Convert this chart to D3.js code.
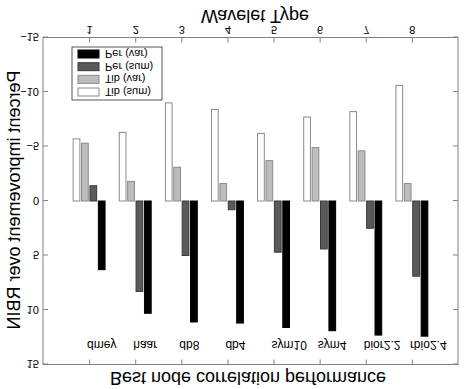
<!DOCTYPE html>
<html>
<head>
<meta charset="utf-8">
<script src="https://cdn.jsdelivr.net/npm/d3@7"></script>
<style>
  body { margin: 0; background: #fff; }
  text { font-family: "Liberation Sans", Arial, sans-serif; fill: #000; }
</style>
</head>
<body>
<div id="vis"></div>
<script>
const FRAME_HEIGHT = 389;
const FRAME_WIDTH = 474;
const MARGINS = {left: 43, right: 16, top: 24.5, bottom: 37.5};

// data
const wavelets = [1, 2, 3, 4, 5, 6, 7, 8];
const waveletNames = ["dmey", "haar", "db8", "db4", "sym10", "sym4", "bior2.2", "rbio2.4"];
const seriesNames = ["Tib (sum)", "Tib (var)", "Per (sum)", "Per (var)"];
const tibSum = [-5.7, -6.3, -9.0, -8.4, -6.2, -7.7, -8.2, -10.6];
const tibVar = [-5.3, -1.8, -3.1, -1.6, -3.7, -4.9, -4.6, -1.6];
const perSum = [-1.4, 8.3, 5.0, 0.8, 4.7, 4.4, 2.5, 6.9];
const perVar = [6.3, 10.3, 11.1, 11.2, 11.6, 11.9, 12.3, 12.4];
const yTicks = [-15, -10, -5, 0, 5, 10, 15];

const seriesValues = [tibSum, tibVar, perSum, perVar];
const FILLS = ["#ffffff", "#bdbdbd", "#5a5a5a", "#000000"];
const EDGES = ["#8a8a8a", "#8a8a8a", "#3a3a3a", "#000000"];
const AXIS_COLOR = "#808080";

const VIS_HEIGHT = FRAME_HEIGHT - MARGINS.top - MARGINS.bottom;
const VIS_WIDTH = FRAME_WIDTH - MARGINS.left - MARGINS.right;

const SVG = d3.select("#vis")
    .append("svg")
      .attr("width", FRAME_WIDTH)
      .attr("height", FRAME_HEIGHT);

// the reference picture is mirrored top to bottom, so draw the normal chart and flip it
const FRAME = SVG.append("g")
    .attr("transform", "translate(0," + FRAME_HEIGHT + ") scale(1,-1)");

// scales
const X_SCALE = d3.scaleLinear()
    .domain([0, 9])
    .range([MARGINS.left, MARGINS.left + VIS_WIDTH]);

const Y_SCALE = d3.scaleLinear()
    .domain([-15, 15])
    .range([MARGINS.top + VIS_HEIGHT, MARGINS.top]);

const GROUP_WIDTH = 33.6;
const X_INNER = d3.scaleBand()
    .domain(seriesNames)
    .range([-GROUP_WIDTH / 2, GROUP_WIDTH / 2])
    .paddingInner(0.2)
    .paddingOuter(0.1);

// bars
const rows = [];
seriesNames.forEach((s, si) => {
  wavelets.forEach((w, wi) => {
    rows.push({series: s, si: si, wavelet: w, value: seriesValues[si][wi]});
  });
});

FRAME.selectAll(".bar")
    .data(rows)
    .enter()
    .append("rect")
      .attr("class", "bar")
      .attr("x", (d) => X_SCALE(d.wavelet) + X_INNER(d.series))
      .attr("width", X_INNER.bandwidth())
      .attr("y", (d) => Math.min(Y_SCALE(0), Y_SCALE(d.value)))
      .attr("height", (d) => Math.abs(Y_SCALE(d.value) - Y_SCALE(0)))
      .attr("fill", (d) => FILLS[d.si])
      .attr("stroke", (d) => EDGES[d.si])
      .attr("stroke-width", 1);

// box round the plot
FRAME.append("rect")
    .attr("x", X_SCALE(0))
    .attr("y", Y_SCALE(15))
    .attr("width", X_SCALE(9) - X_SCALE(0))
    .attr("height", Y_SCALE(-15) - Y_SCALE(15))
    .attr("fill", "none")
    .attr("stroke", AXIS_COLOR);

// axes, ticks pointing inside
const xBottom = FRAME.append("g")
    .attr("transform", "translate(0," + Y_SCALE(-15) + ")")
    .call(d3.axisBottom(X_SCALE).tickValues(wavelets).tickSize(-5).tickPadding(4));

const xTop = FRAME.append("g")
    .attr("transform", "translate(0," + Y_SCALE(15) + ")")
    .call(d3.axisTop(X_SCALE).tickValues(wavelets).tickSize(-5).tickFormat(""));

const yLeft = FRAME.append("g")
    .attr("transform", "translate(" + X_SCALE(0) + ",0)")
    .call(d3.axisLeft(Y_SCALE).tickValues(yTicks).tickSize(-5).tickPadding(4));

const yRight = FRAME.append("g")
    .attr("transform", "translate(" + X_SCALE(9) + ",0)")
    .call(d3.axisRight(Y_SCALE).tickValues(yTicks).tickSize(-5).tickFormat(""));

[xBottom, xTop, yLeft, yRight].forEach((g) => {
  g.select(".domain").remove();
  g.selectAll(".tick line").attr("stroke", AXIS_COLOR);
  g.selectAll("text")
      .attr("font-family", "Liberation Sans, Arial, sans-serif")
      .attr("font-size", "11px")
      .attr("fill", "#000");
});

// wavelet names inside the plot
FRAME.selectAll(".wname")
    .data(waveletNames)
    .enter()
    .append("text")
      .attr("class", "wname")
      .attr("x", (d, i) => X_SCALE(wavelets[i]) - 2)
      .attr("y", Y_SCALE(12.8))
      .attr("font-size", "12px")
      .text((d) => d);

// titles
FRAME.append("text")
    .attr("x", 248)
    .attr("y", 17)
    .attr("text-anchor", "middle")
    .attr("font-size", "18px")
    .text("Best node correlation performance");

FRAME.append("text")
    .attr("x", 255)
    .attr("y", 379)
    .attr("text-anchor", "middle")
    .attr("font-size", "18px")
    .text("Wavelet Type");

FRAME.append("text")
    .attr("transform", "translate(20," + 189 + ") rotate(-90)")
    .attr("text-anchor", "middle")
    .attr("font-size", "18px")
    .text("Percent improvement over RBIN");

// legend
const LEGEND = FRAME.append("g");
LEGEND.append("rect")
    .attr("x", 72)
    .attr("y", 289)
    .attr("width", 90)
    .attr("height", 53)
    .attr("fill", "#fff")
    .attr("stroke", "#555");

const LEG_Y = d3.scalePoint()
    .domain(seriesNames)
    .range([297, 335]);

LEGEND.selectAll(".swatch")
    .data(seriesNames)
    .enter()
    .append("rect")
      .attr("class", "swatch")
      .attr("x", 78)
      .attr("y", (d) => LEG_Y(d) - 4)
      .attr("width", 21)
      .attr("height", 8)
      .attr("fill", (d, i) => FILLS[i])
      .attr("stroke", (d, i) => EDGES[i]);

LEGEND.selectAll(".ltext")
    .data(seriesNames)
    .enter()
    .append("text")
      .attr("class", "ltext")
      .attr("x", 105)
      .attr("y", (d) => LEG_Y(d))
      .attr("dy", "0.35em")
      .attr("font-size", "11px")
      .text((d) => d);
</script>
</body>
</html>
